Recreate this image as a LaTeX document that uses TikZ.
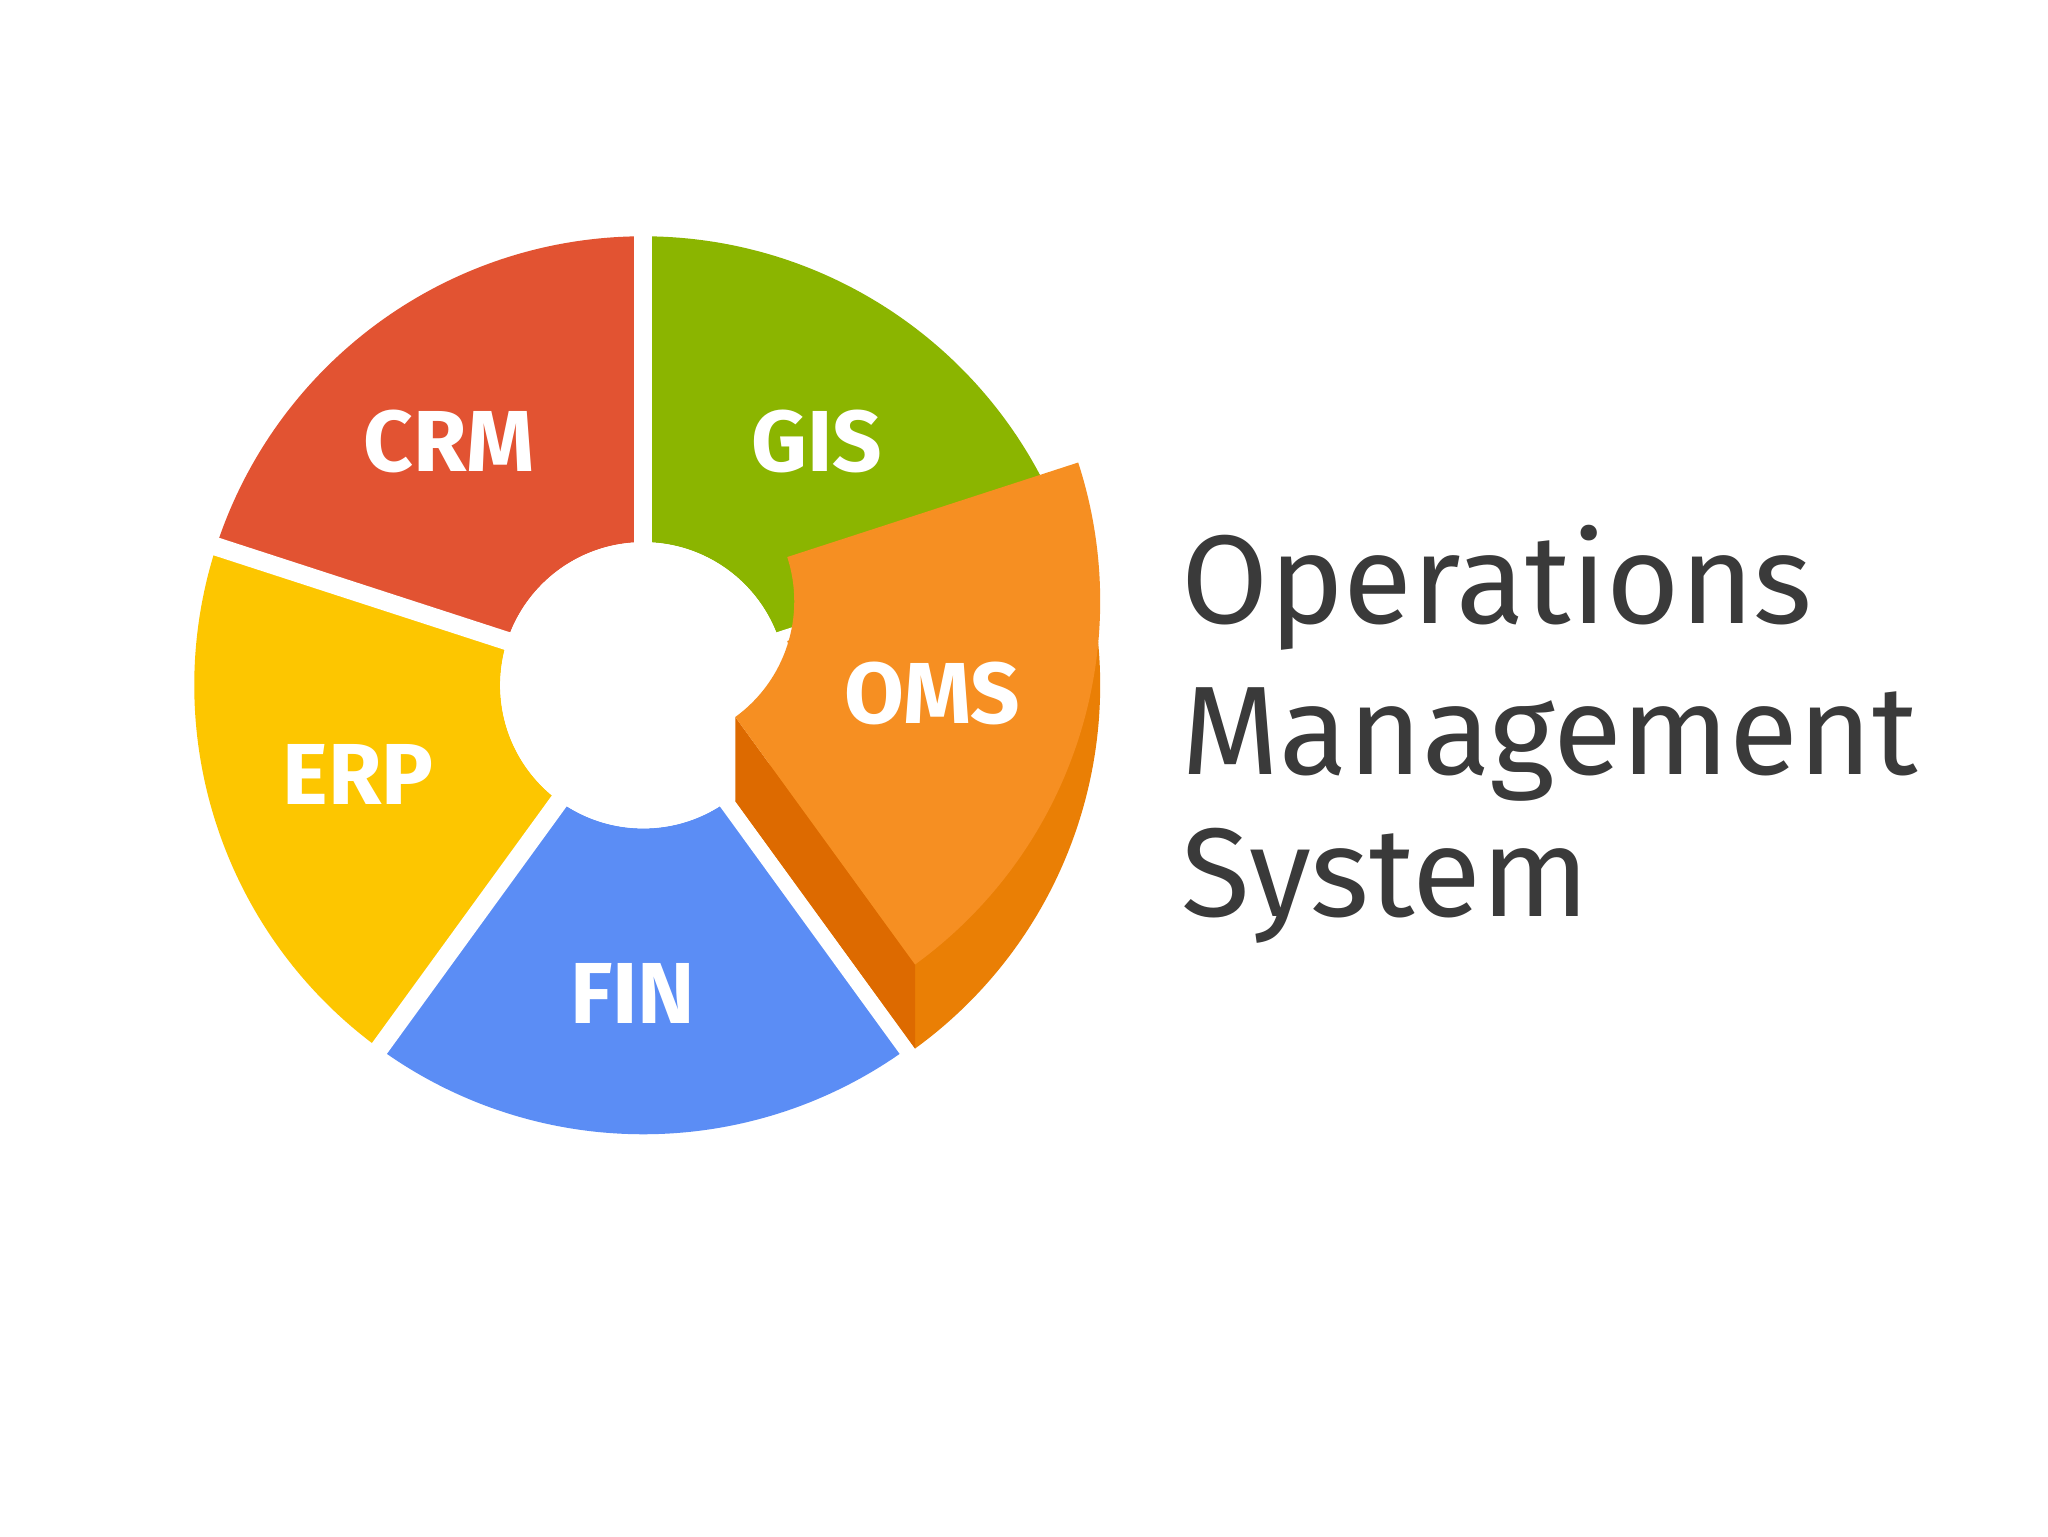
\documentclass[tikz,border=0pt]{standalone}
\usepackage{fontspec}
\setmainfont{Fira Sans}
\usetikzlibrary{calc}
\definecolor{crm}{HTML}{E25332}
\definecolor{gis}{HTML}{8BB500}
\definecolor{erp}{HTML}{FDC600}
\definecolor{fin}{HTML}{5B8DF5}
\definecolor{omsf}{HTML}{F68F22}
\definecolor{omss}{HTML}{DD6A00}
\definecolor{omsb}{HTML}{EA7F05}
\definecolor{ttl}{HTML}{3A3A3A}
\tikzset{lbl/.style={text=white,font=\fontsize{66}{66}\selectfont\bfseries},
ttlt/.style={text=ttl,anchor=base west,inner sep=0,font=\fontsize{96}{96}\selectfont}}
\newcommand{\ringsec}[5]{% color, cx, cy, a1, a2
\fill[#1] ($(#2,#3)+(#4:342)$) arc[start angle=#4,end angle=#5,radius=342] -- ($(#2,#3)+(#5:109)$) arc[start angle=#5,end angle=#4,radius=109] -- cycle;}
\begin{document}
\begin{tikzpicture}[x=1pt,y=1pt]
\useasboundingbox[fill=white] (0,0) rectangle (1560,1170);
\coordinate (c) at (490,648);
\ringsec{crm}{490}{648}{90}{162}
\ringsec{gis}{490}{648}{18}{90}
\ringsec{erp}{490}{648}{162}{234}
\ringsec{fin}{490}{648}{234}{306}
\foreach \a in {90,162,234,306,18}
  \draw[white,line width=14] (c) -- ++(\a:360);
\fill[white] (c) circle (109);
% OMS extruded
\ringsec{omsb}{496}{648}{-54}{18}
\fill[omss] ($(496,648)+(-54:109)$) -- ($(496,648)+(-54:342)$) -- ($(496,712)+(-54:342)$) -- ($(496,712)+(-54:109)$) -- cycle;
\ringsec{omsf}{496}{712}{-54}{18}
\node[lbl] (crm) at (342,834) {CRM};
\node[lbl] (gis) at (622,834) {GIS};
\node[lbl] (oms) at (710,642) {OMS};
\node[lbl] (erp) at (273,580) {ERP};
\node[lbl] (fin) at (482,413) {FIN};
\node[ttlt] (t1) at (900,695) {Operations};
\node[ttlt] (t2) at (900,580) {Management};
\node[ttlt] (t3) at (900,472) {System};
\end{tikzpicture}
\end{document}
